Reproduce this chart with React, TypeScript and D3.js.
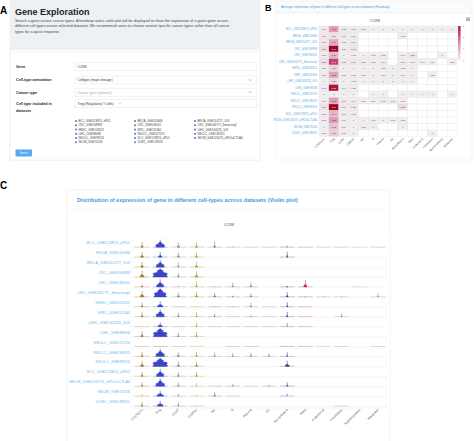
import React from 'react';
import * as d3 from 'd3';

const gene = 'CCR8';

const cellTypes = ['CD4Tconv', 'Treg', 'CD8T', 'CD8Tex', 'NK', 'B', 'Plasma', 'DC', 'Mono/Macro', 'Mast',
  'Endothelial', 'Fibroblasts', 'Myofibroblasts', 'Malignant'];

const datasets = ['BCC_GSE123813_aPD1', 'BRCA_GSE110686', 'BRCA_GSE114727_10X', 'CRC_GSE108989', 'CRC_GSE136505',
  'CRC_GSE146771_Smartseq2', 'HNSC_GSE103322', 'KIRC_GSE111360', 'LIHC_GSE140228_10X', 'LIHC_GSE98638',
  'NSCLC_GSE117570', 'NSCLC_GSE139555', 'NSCLC_GSE99254', 'SCC_GSE123813_aPD1', 'SKCM_GSE120575_aPD1aCTLA4',
  'SKCM_GSE72056', 'UCEC_GSE139555'];

const _ = null;
// average expression (heatmap), one row per dataset; null = cell type absent
const meanExpr = [
  [0.08, 1.32, 0.12, 0.07, 0.05, 0, 0, 0, 0, 0, 0, 0, 0, 0],
  [0.14, 0.21, 0.09, 0.07, _, _, _, _, 0.02],
  [0.1, 1.06, 0.03, 0.09],
  [0.31, 3.48, 0.05, 0.17],
  [0.06, 0.88, 0, 0.03, 0, 0.02, 0.05, _, 0.04, 0.21, _, _, 0, _],
  [0.27, 2.41, 0.12, 0.1, 0.08, 0.03, 0.04, _, 0.06, 0.01, 0.01, 0.01, _, 0.02],
  [0.05, 0.46, 0, 0, 0, 0, 0.01, 0, 0.02, 0],
  [0.06, 1.21, 0.05, 0.03, 0.02, 0, 0.01, 0, 0.04, 0, _, 0.02],
  [0, 0.34, 0, 0.02, 0, 0, 0, 0, 0, 0],
  [0.09, 3.22, 0.04, 0.05],
  [0, 0, 0, 0, _, 0, 0, _, 0, 0, 0, 0, _, 0],
  [0.04, 1.29, 0.08, 0.04, 0.01, 0.01, 0.02, 0.03, 0.01],
  [0.18, 3.61, 0.09, 0.12, _, _, _, _, 0.31],
  [0.05, 0.94, 0.06, 0.05],
  [0.03, 1.36, 0.04, 0, 0, 0.01, 0, 0.01, 0.02],
  [0, 0.72, 0.01, 0, 0.05, 0, _, _, 0],
  [0.03, 0.59, 0.02, 0, _, _, _, _, _, _, _, 0],
];

// highest expression reached in each violin
const violinMax = [
  [3.2, 4.5, 2.8, 3, 3.4, 0.8, 0, 0, 1, 0, 0, 0, 0, 0],
  [3, 3.1, 2.9, 3, _, _, _, _, 3.3],
  [3.1, 4.4, 2.9, 3.2],
  [3.8, 5, 2.5, 3.3],
  [1.5, 4.6, 1, 3.4, 0.5, 2.6, 2.8, _, 0.5, 4.2, _, _, 0, _],
  [3.6, 5, 2.6, 3, 2.4, 0.8, 2.2, _, 2.8, 0, 0, 0, _, 2],
  [2.6, 3.4, 0.5, 0.5, 0.5, 0.5, 2.6, 0, 2.8, 0],
  [2.8, 4.6, 2.6, 2.7, 2, 0, 1, 0, 2.9, 0, _, 2.2],
  [0, 2.6, 0.5, 2.4, 0, 0, 0, 0, 2.2, 0],
  [3.2, 5, 2.5, 2.8],
  [0, 0, 0, 0, _, 0, 0, _, 0, 0, 0, 0, _, 0],
  [2.8, 4.6, 2.6, 2.8, 2.4, 2.2, 2.4, 2.2, 2.6],
  [3.3, 5, 3, 2.9, _, _, _, _, 3.4],
  [2.7, 4.7, 2.6, 2.6],
  [2.5, 4.7, 2.5, 2, 0, 1.4, 0, 1, 2.4],
  [1, 3.3, 1.6, 1, 2.6, 0, _, _, 1.5],
  [2.6, 3.2, 2.4, 0.5, _, _, _, _, _, _, _, 0],
];

const legendTicks = [0, 1, 2, 3];
const cellTypeColors = ['#a0782a', '#3a46c2', '#7f8c9c', '#9aa33a', '#8c7d5a', '#7d8a6c', '#8a7f6e', '#8a8f99',
  '#3c3f96', '#b8304a', '#8f9499', '#8b8f8c', '#9a9a9a', '#8d8f94'];

// violin outline: [height fraction, half-width fraction]
const violinProfile = [[0, 0.9], [0.1, 1], [0.22, 0.8], [0.35, 0.95], [0.48, 0.9], [0.58, 0.5], [0.66, 0.35],
  [0.75, 0.45], [0.85, 0.25], [0.95, 0.1], [1, 0.04]];

const description = [
  'Search a gene across cancer types. A heatmap and a violin plot will be displayed to show the expression of a given gene across',
  'different cell types across selected datasets. We recommend users to choose several specific cancer types rather than all cancer',
  'types for a quick response.',
];
const formLabels = ['Gene', 'Cell-type annotation', 'Cancer type', 'Cell type included in'];
const formValues = [gene, 'Celltype (major-lineage)', 'Cancer types (optional)', 'Treg (Regulatory T cells)'];

const font = 'Liberation Sans, Arial, sans-serif';
const blue = '#3d9be0';

const full = (m: (number | null)[][]) => m.map(r => cellTypes.map((_c, j) => (r[j] === undefined ? null : r[j])));

const PanelA = () => {
  const labelY = [68, 81.3, 93.5];
  const boxY = [66.5, 80, 92.3, 103.5];
  return (
    <g fontFamily={font}>
      <text x={0} y={14} fontSize={10} fontWeight="bold">A</text>
      <rect x={10} y={-1} width={250} height={161} fill="#fff" stroke="#e3e6ea" strokeWidth={0.6} />
      <rect x={10.3} y={-1} width={249.4} height={51} fill="#edf1f6" />
      <text x={15} y={14.5} fontSize={9} fontWeight="bold" fill="#222">Gene Exploration</text>
      {description.map((l, i) => (
        <text key={i} x={15} y={21.5 + i * 5.8} fontSize={3.78} fill="#444">{l}</text>
      ))}
      <rect x={10} y={52} width={250} height={108} fill="#fff" stroke="#e8e8e8" strokeWidth={0.5} />
      {formLabels.map((l, i) => (
        <text key={l} x={16} y={i < 3 ? labelY[i] : 105} fontSize={3.7} fontWeight="bold" fill="#222">{l}</text>
      ))}
      <text x={16} y={111.5} fontSize={3.7} fontWeight="bold" fill="#222">datasets</text>
      {formValues.map((v, i) => (
        <g key={v}>
          <rect x={75} y={boxY[i] - 4} width={182} height={8} rx={1} fill="#fff" stroke="#d9d9d9" strokeWidth={0.4} />
          <text x={77.5} y={boxY[i] + 1.2} fontSize={3.3} fill={i === 2 ? '#aaa' : '#333'}>{v}</text>
          {(i === 1 || i === 2) && <path d={`M${249},${boxY[i] - 0.7}l1.2,1.4l1.2,-1.4`} fill="none" stroke="#666" strokeWidth={0.4} />}
          {i === 3 && <text x={119} y={boxY[i] + 0.3} fontSize={2.4} fill="#888">ⓧ</text>}
        </g>
      ))}
      {datasets.map((d, i) => {
        const x = [76, 135, 195][i % 3];
        const y = 121 + Math.floor(i / 3) * 4.25;
        return (
          <g key={d}>
            <rect x={x - 0.8} y={y - 0.8} width={1.7} height={1.7} fill="#3f6fd8" />
            <text x={x + 2.4} y={y + 1} fontSize={2.9} fill="#444">{d}</text>
          </g>
        );
      })}
      <rect x={15.5} y={149.5} width={16.5} height={7} rx={1} fill="#55a8f2" />
      <text x={23.75} y={154} fontSize={2.6} fill="#fff" textAnchor="middle">Search</text>
    </g>
  );
};

const PanelB = () => {
  const values = full(meanExpr);
  const x = d3.scaleBand().domain(cellTypes).range([319, 457]);
  const y = d3.scaleBand().domain(datasets).range([26, 136.5]);
  const maxV = 3.6;
  const color = d3.scaleLinear<string>().domain([0, 0.5, 1.5, 2.5, maxV])
    .range(['#f1eef0', '#ecd0dd', '#dc8fb0', '#c03a66', '#a0001c']).clamp(true);
  const ly = d3.scaleLinear().domain([0, 3]).range([60, 26]);
  return (
    <g fontFamily={font}>
      <text x={265} y={11} fontSize={9} fontWeight="bold">B</text>
      <rect x={276} y={1} width={196} height={12} fill="#fafbfc" stroke="#e6e6e6" strokeWidth={0.4} />
      <text x={281} y={8} fontSize={3.2} fill={blue}>Average expression of gene in different cell-types across datasets (Heatmap)</text>
      <rect x={276} y={13} width={196} height={147} fill="#fff" stroke="#e6e6e6" strokeWidth={0.4} />
      <text x={375} y={21.5} fontSize={3.6} fill="#444" textAnchor="middle">{gene}</text>
      {[0, 1.3, 2.6].map(o => <line key={o} x1={466} x2={470} y1={18 + o} y2={18 + o} stroke="#666" strokeWidth={0.6} />)}
      {datasets.map((d, i) => cellTypes.map((c, j) => {
        const v = values[i][j];
        return (
          <g key={d + c}>
            <rect x={x(c)} y={y(d)} width={x.bandwidth()} height={y.bandwidth()}
              fill={v === null ? '#fff' : color(v)} stroke="#e2e2e2" strokeWidth={0.3} />
            {v !== null && (
              <text x={x(c)! + x.bandwidth() / 2} y={y(d)! + y.bandwidth() / 2 + 0.8} fontSize={2.2}
                textAnchor="middle" fill={v > 2.2 ? '#fff' : '#333'}>{v === 0 ? '0' : v.toFixed(2)}</text>
            )}
          </g>
        );
      }))}
      {datasets.map(d => (
        <text key={d} x={317} y={y(d)! + y.bandwidth() / 2 + 1} fontSize={2.8} fill="#5aaae6" textAnchor="end">{d}</text>
      ))}
      {cellTypes.map(c => (
        <text key={c} fontSize={2.8} fill="#555" textAnchor="end"
          transform={`translate(${x(c)! + x.bandwidth() / 2 + 1},${139}) rotate(-45)`}>{c}</text>
      ))}
      <defs>
        <linearGradient id="hm" x1="0" y1="1" x2="0" y2="0">
          {d3.range(0, 1.01, 0.1).map(t => <stop key={t} offset={t} stopColor={color(t * 3)} />)}
        </linearGradient>
      </defs>
      <rect x={458} y={ly(3)} width={2.6} height={ly(0) - ly(3)} fill="url(#hm)" />
      {legendTicks.map(t => (
        <text key={t} x={463} y={ly(t) + 0.8} fontSize={2.4} fill="#555">{t}</text>
      ))}
    </g>
  );
};

const PanelC = () => {
  const means = full(meanExpr);
  const tops = full(violinMax);
  const x = d3.scaleBand().domain(cellTypes).range([133, 387]);
  const base = d3.scalePoint().domain(datasets).range([247.3, 406.2]);
  const w = d3.scaleSqrt().domain([0, 3.6]).range([0, 7.6]);
  return (
    <g fontFamily={font}>
      <text x={0} y={189} fontSize={10} fontWeight="bold">C</text>
      <rect x={67} y={190} width={323} height={260} fill="#fff" stroke="#e8e8e8" strokeWidth={0.5} />
      <line x1={67} x2={390} y1={210} y2={210} stroke="#eee" strokeWidth={0.5} />
      <text x={77} y={202} fontSize={5.5} fontWeight="bold" fill={blue}>
        Distribution of expression of gene in different cell-types across datasets (Violin plot)
      </text>
      <text x={229} y={226} fontSize={3.6} fill="#444" textAnchor="middle">{gene}</text>
      {datasets.map((d, i) => {
        const b = base(d)!;
        const yv = d3.scaleLinear().domain([0, 5]).range([b, b - 8.4]);
        return (
          <g key={d}>
            <line x1={133} x2={387} y1={b} y2={b} stroke="#e6e6e6" strokeWidth={0.4} />
            <line x1={133} x2={387} y1={yv(5)} y2={yv(5)} stroke="#f0f0f0" strokeWidth={0.3} />
            <text x={130} y={b - 3} fontSize={3.9} fill="#6cb8ec" textAnchor="end">{d}</text>
            <text x={132} y={b + 0.6} fontSize={1.6} fill="#aaa" textAnchor="end">0</text>
            <text x={132} y={yv(4) + 0.6} fontSize={1.6} fill="#aaa" textAnchor="end">4</text>
            {cellTypes.map((c, j) => {
              const m = means[i][j];
              const t = tops[i][j];
              if (m === null || t === null) return null;
              const cx = x(c)! + x.bandwidth() / 2;
              const hw = w(m);
              const bodyH = (b - yv(t)) * Math.min(0.95, 0.35 + m / 3.5);
              const area = d3.area<number[]>()
                .y(p => b - p[0] * bodyH)
                .x0(p => cx - p[1] * hw)
                .x1(p => cx + p[1] * hw)
                .curve(d3.curveCatmullRom);
              return (
                <g key={c}>
                  <line x1={cx - 7.4} x2={cx + 7.4} y1={b - 0.2} y2={b - 0.2} stroke={cellTypeColors[j]} strokeOpacity={0.55} strokeWidth={0.5} />
                  {t > 0 && <line x1={cx} x2={cx} y1={b} y2={yv(t)} stroke={cellTypeColors[j]} strokeWidth={0.55} />}
                  {hw > 0.3 && <path d={area(violinProfile)!} fill={cellTypeColors[j]} stroke={cellTypeColors[j]} strokeWidth={0.3} />}
                </g>
              );
            })}
          </g>
        );
      })}
      <line x1={133} x2={387} y1={408} y2={408} stroke="#ddd" strokeWidth={0.4} />
      {cellTypes.map(c => (
        <text key={c} fontSize={3.3} fill="#666" textAnchor="end"
          transform={`translate(${x(c)! + x.bandwidth() / 2 + 1},${410}) rotate(-45)`}>{c}</text>
      ))}
    </g>
  );
};

export default function App() {
  return (
    <svg width={474} height={441} style={{ position: 'absolute', left: 0, top: 0, background: '#fff' }}>
      <PanelA />
      <PanelB />
      <PanelC />
    </svg>
  );
}
